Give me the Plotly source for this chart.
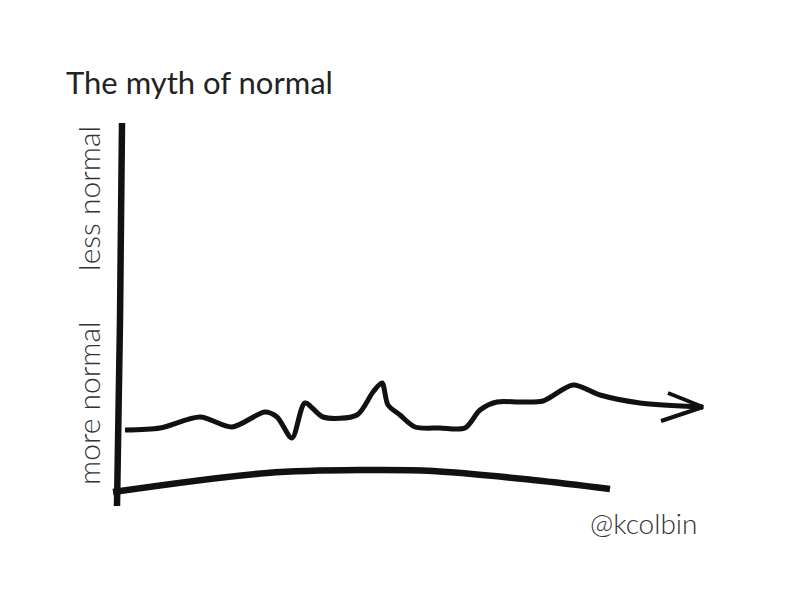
import plotly.graph_objects as go

# Sketch coordinates (canvas units, y grows downward)
wiggle_x = [125, 160, 200, 232, 265, 277, 292, 305, 323, 357, 373, 382, 388, 400, 415, 440, 465,
            480, 497, 520, 543, 573, 600, 640, 703]
wiggle_y = [430, 428, 417, 427, 412, 417, 438, 403, 417, 415, 392, 383, 405, 415, 427, 428, 428,
            410, 402, 402, 401, 385, 395, 403, 407]
arrow_x = [668, 703, 661]
arrow_y = [393, 407, 421]
yaxis_x = [122, 120, 117]
yaxis_y = [123, 320, 506]
xaxis_x = [113, 267, 367, 433, 533, 610]
xaxis_y = [492, 473, 470, 471, 480, 489]

title = "The myth of normal"
ylab_hi = "less normal"
ylab_lo = "more normal"
credit = "@kcolbin"

ink = "#111111"
fig = go.Figure()
fig.add_trace(go.Scatter(x=yaxis_x, y=yaxis_y, mode="lines",
                         line=dict(color=ink, width=6.5, shape="spline"), hoverinfo="skip"))
fig.add_trace(go.Scatter(x=xaxis_x, y=xaxis_y, mode="lines",
                         line=dict(color=ink, width=6.5, shape="spline"), hoverinfo="skip"))
fig.add_trace(go.Scatter(x=wiggle_x, y=wiggle_y, mode="lines",
                         line=dict(color=ink, width=5, shape="spline", smoothing=0.8), hoverinfo="skip"))
fig.add_trace(go.Scatter(x=arrow_x, y=arrow_y, mode="lines",
                         line=dict(color=ink, width=4), hoverinfo="skip"))

font_hand = "Lato"
fig.add_annotation(x=64, y=82, text=title, showarrow=False, xanchor="left", yanchor="middle",
                   font=dict(family=font_hand, size=31, color="#222"))
fig.add_annotation(x=88, y=199, text=ylab_hi, showarrow=False, textangle=-90,
                   font=dict(family=font_hand, size=30, color="#333", weight=300))
fig.add_annotation(x=88, y=403, text=ylab_lo, showarrow=False, textangle=-90,
                   font=dict(family=font_hand, size=30, color="#333", weight=300))
fig.add_annotation(x=643, y=523, text=credit, showarrow=False,
                   font=dict(family=font_hand, size=28, color="#333", weight=300))

fig.update_layout(width=792, height=612, margin=dict(l=0, r=0, t=0, b=0),
                  paper_bgcolor="white", plot_bgcolor="white", showlegend=False,
                  xaxis=dict(range=[0, 792], visible=False, fixedrange=True),
                  yaxis=dict(range=[612, 0], visible=False, fixedrange=True))
fig.write_html("out.html")
